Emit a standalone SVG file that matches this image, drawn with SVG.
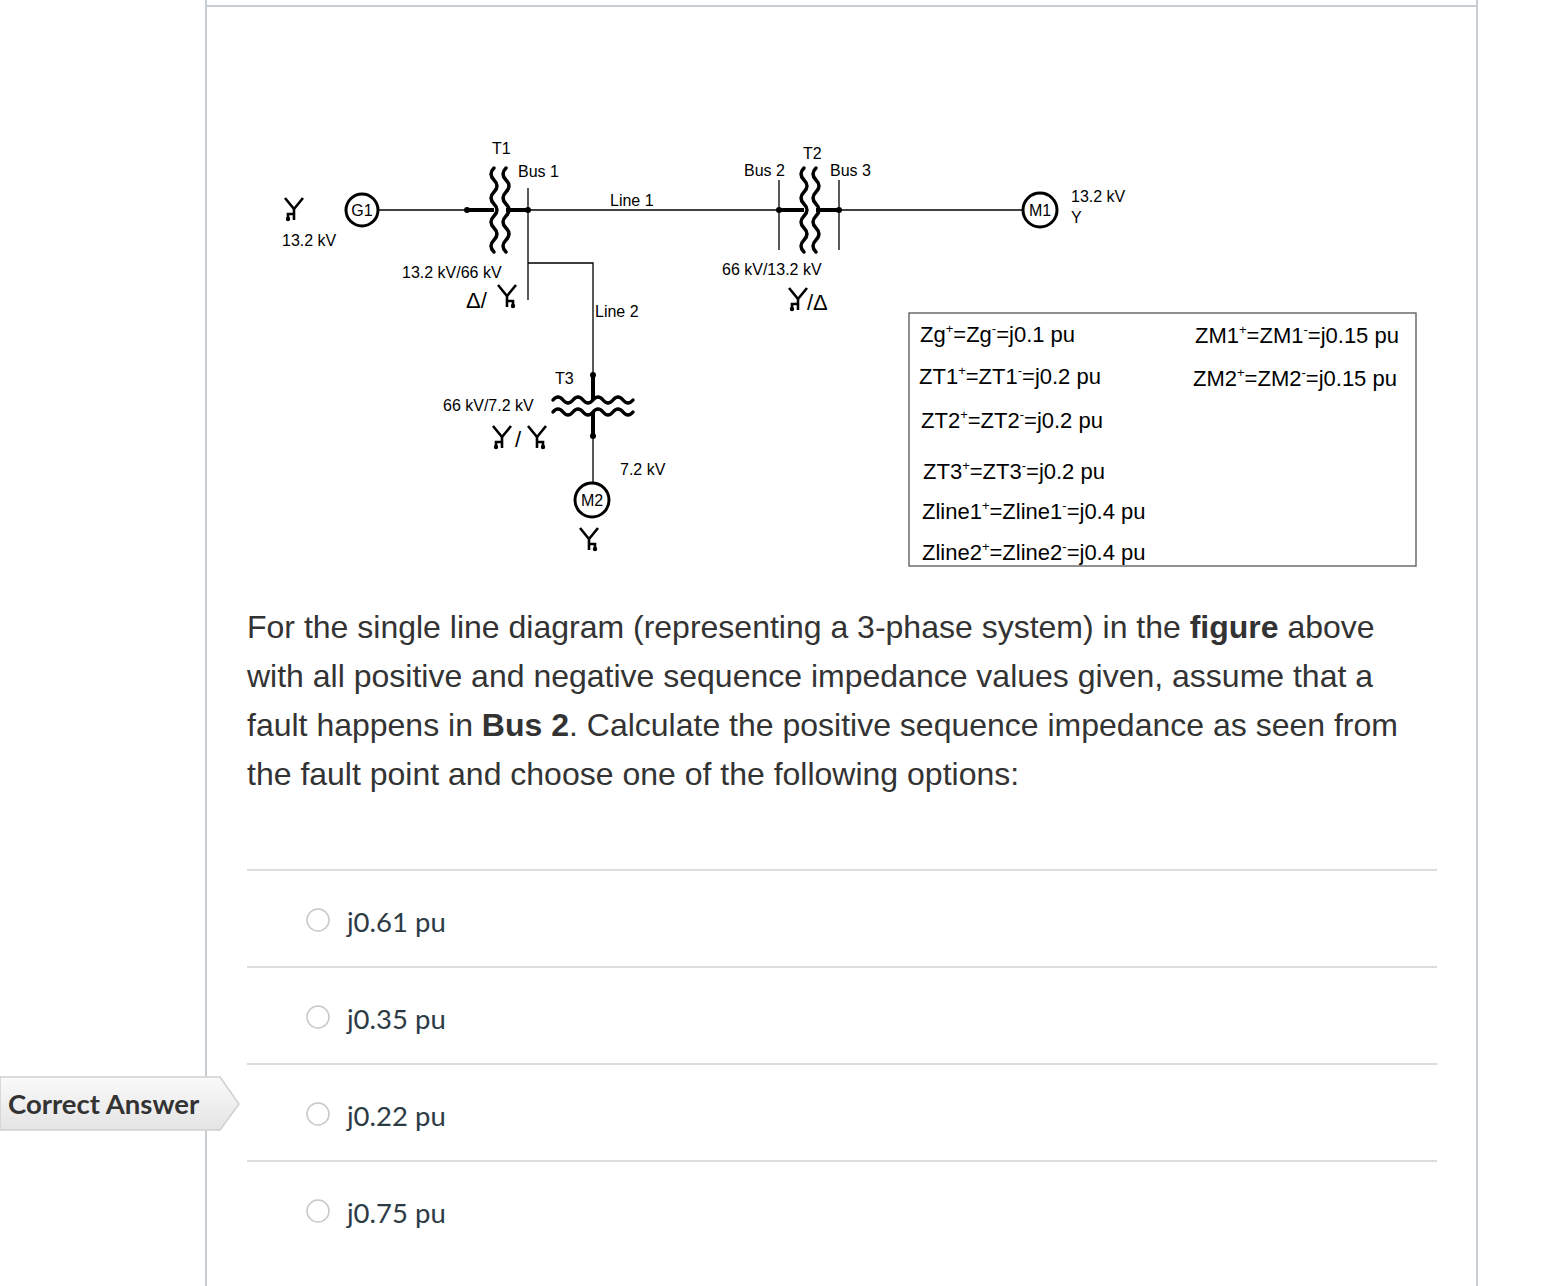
<svg xmlns="http://www.w3.org/2000/svg" width="1556" height="1286" viewBox="0 0 1556 1286">
<defs>
<linearGradient id="tab" x1="0" y1="0" x2="0" y2="1"><stop offset="0" stop-color="#fafafa"/><stop offset="1" stop-color="#e4e4e4"/></linearGradient>
<path id="vcoil" d="M0,0 q-6,6 0,12 q6,6 0,12 q-6,6 0,12 q6,6 0,12 q-6,6 0,12 q6,6 0,12 q-6,6 0,12" fill="none" stroke="#000" stroke-width="3.5" stroke-linecap="round"/>
<path id="hcoil" d="M0,0 q5,-6 10,0 q5,6 10,0 q5,-6 10,0 q5,6 10,0 q5,-6 10,0 q5,6 10,0 q5,-6 10,0 q5,6 10,0" fill="none" stroke="#000" stroke-width="3.5" stroke-linecap="round"/>
<g id="wyeg"><path d="M-9,-11 L0,0 L9,-11 M0,0 V11 M0,5 H-6 V10" fill="none" stroke="#000" stroke-width="2.6"/><circle cx="-6" cy="10" r="2.2"/></g>
</defs>
<style>
.d{font-family:"Liberation Sans",Arial,sans-serif;font-size:16px;fill:#000}
.b{font-family:"Liberation Sans",Arial,sans-serif;font-size:22px;fill:#000}
.s{font-size:13px}
.q{font-family:"Liberation Sans",Arial,sans-serif;font-size:32px;fill:#333}
.o{font-family:Lato,"Liberation Sans",sans-serif;font-size:27.5px;fill:#2d3b45}
.w{stroke:#000;stroke-width:1.3;fill:none}
.t{stroke:#000;stroke-width:4;fill:none}
.sep{stroke:#ddd;stroke-width:2}
</style>
<rect width="1556" height="1286" fill="#fff"/>
<g id="frame" stroke="#c7cdd1" stroke-width="2"><line x1="206" y1="0" x2="206" y2="1286"/><line x1="1477" y1="0" x2="1477" y2="1286"/><line x1="206" y1="6" x2="1477" y2="6"/></g>

<g id="connectors">
<line class="w" x1="378" y1="210" x2="467" y2="210"/>
<line class="w" x1="528" y1="210" x2="779" y2="210"/>
<line class="w" x1="528" y1="188" x2="528" y2="300"/>
<polyline class="w" points="528,263 593,263 593,375"/>
<line class="w" x1="593" y1="436" x2="593" y2="483"/>
<line class="w" x1="779" y1="180" x2="779" y2="250"/>
<line class="w" x1="839" y1="180" x2="839" y2="250"/>
<line class="w" x1="839" y1="210" x2="1023" y2="210"/>
</g>

<g id="G1"><circle cx="362" cy="210" r="16" fill="#fff" stroke="#000" stroke-width="3"/><text class="d" x="362" y="216" text-anchor="middle">G1</text>
<use href="#wyeg" x="294" y="209"/><text class="d" x="282" y="246">13.2 kV</text></g>

<g id="T1"><line class="t" x1="467" y1="210" x2="494" y2="210"/><line class="t" x1="506" y1="210" x2="528" y2="210"/>
<circle cx="467" cy="210" r="3"/><circle cx="528" cy="210" r="3"/>
<use href="#vcoil" x="494" y="168"/><use href="#vcoil" x="506" y="168"/>
<text class="d" x="492" y="154">T1</text><text class="d" x="518" y="177">Bus 1</text>
<text class="d" x="402" y="278">13.2 kV/66 kV</text>
<text class="b" x="466" y="308" font-size="25">Δ/</text><use href="#wyeg" transform="translate(507,296) scale(-1,1)"/></g>

<text class="d" x="610" y="206">Line 1</text>
<text class="d" x="595" y="317">Line 2</text>

<g id="T3"><line class="t" x1="593" y1="375" x2="593" y2="400"/><line class="t" x1="593" y1="412" x2="593" y2="436"/>
<circle cx="593" cy="375" r="3"/><circle cx="593" cy="436" r="3"/>
<use href="#hcoil" x="553" y="400"/><use href="#hcoil" x="553" y="412"/>
<text class="d" x="555" y="384">T3</text><text class="d" x="443" y="411">66 kV/7.2 kV</text>
<use href="#wyeg" x="502" y="437"/><text class="b" x="515" y="447">/</text><use href="#wyeg" transform="translate(537,437) scale(-1,1)"/>
<text class="d" x="620" y="475">7.2 kV</text></g>

<g id="M2"><circle cx="592" cy="500" r="17" fill="#fff" stroke="#000" stroke-width="3"/><text class="d" x="592" y="506" text-anchor="middle">M2</text><use href="#wyeg" transform="translate(589,539) scale(-1,1)"/></g>

<g id="T2"><line class="t" x1="779" y1="210" x2="804" y2="210"/><line class="t" x1="816" y1="210" x2="839" y2="210"/>
<circle cx="779" cy="210" r="3"/><circle cx="839" cy="210" r="3"/>
<use href="#vcoil" x="804" y="168"/><use href="#vcoil" x="816" y="168"/>
<text class="d" x="803" y="159">T2</text><text class="d" x="744" y="176">Bus 2</text><text class="d" x="830" y="176">Bus 3</text>
<text class="d" x="722" y="275">66 kV/13.2 kV</text>
<use href="#wyeg" x="798" y="299"/><text class="b" x="807" y="310" font-size="25">/Δ</text></g>

<g id="M1"><circle cx="1040" cy="210" r="17" fill="#fff" stroke="#000" stroke-width="3"/><text class="d" x="1040" y="216" text-anchor="middle">M1</text>
<text class="d" x="1071" y="202">13.2 kV</text><text class="d" x="1071" y="223">Y</text></g>

<g id="table"><rect x="909" y="313" width="507" height="253" fill="none" stroke="#555" stroke-width="1.3"/>
<g class="b">
<text x="920" y="342">Zg<tspan class="s" dy="-9">+</tspan><tspan dy="9">=Zg</tspan><tspan class="s" dy="-9">-</tspan><tspan dy="9">=j0.1 pu</tspan></text>
<text x="919" y="384">ZT1<tspan class="s" dy="-9">+</tspan><tspan dy="9">=ZT1</tspan><tspan class="s" dy="-9">-</tspan><tspan dy="9">=j0.2 pu</tspan></text>
<text x="921" y="428">ZT2<tspan class="s" dy="-9">+</tspan><tspan dy="9">=ZT2</tspan><tspan class="s" dy="-9">-</tspan><tspan dy="9">=j0.2 pu</tspan></text>
<text x="923" y="479">ZT3<tspan class="s" dy="-9">+</tspan><tspan dy="9">=ZT3</tspan><tspan class="s" dy="-9">-</tspan><tspan dy="9">=j0.2 pu</tspan></text>
<text x="922" y="519">Zline1<tspan class="s" dy="-9">+</tspan><tspan dy="9">=Zline1</tspan><tspan class="s" dy="-9">-</tspan><tspan dy="9">=j0.4 pu</tspan></text>
<text x="922" y="560">Zline2<tspan class="s" dy="-9">+</tspan><tspan dy="9">=Zline2</tspan><tspan class="s" dy="-9">-</tspan><tspan dy="9">=j0.4 pu</tspan></text>
<text x="1195" y="343">ZM1<tspan class="s" dy="-9">+</tspan><tspan dy="9">=ZM1</tspan><tspan class="s" dy="-9">-</tspan><tspan dy="9">=j0.15 pu</tspan></text>
<text x="1193" y="386">ZM2<tspan class="s" dy="-9">+</tspan><tspan dy="9">=ZM2</tspan><tspan class="s" dy="-9">-</tspan><tspan dy="9">=j0.15 pu</tspan></text>
</g></g>

<g id="question" class="q">
<text x="247" y="638">For the single line diagram (representing a 3-phase system) in the <tspan font-weight="bold">figure</tspan> above</text>
<text x="247" y="687">with all positive and negative sequence impedance values given, assume that a</text>
<text x="247" y="736">fault happens in <tspan font-weight="bold">Bus 2</tspan>. Calculate the positive sequence impedance as seen from</text>
<text x="247" y="785">the fault point and choose one of the following options:</text>
</g>

<g id="options">
<line class="sep" x1="247" y1="870" x2="1437" y2="870"/><line class="sep" x1="247" y1="967" x2="1437" y2="967"/>
<line class="sep" x1="247" y1="1064" x2="1437" y2="1064"/><line class="sep" x1="247" y1="1161" x2="1437" y2="1161"/>
<g fill="#fff" stroke="#c8c8c8" stroke-width="1.5"><circle cx="318" cy="920" r="11"/><circle cx="318" cy="1017" r="11"/><circle cx="318" cy="1114" r="11"/><circle cx="318" cy="1211" r="11"/></g>
<text class="o" x="347" y="932">j0.61 pu</text><text class="o" x="347" y="1029">j0.35 pu</text>
<text class="o" x="347" y="1126">j0.22 pu</text><text class="o" x="347" y="1223">j0.75 pu</text>
</g>

<g id="correct"><polygon points="0,1077 220,1077 239,1104 220,1130 0,1130" fill="url(#tab)" stroke="#cfcfcf" stroke-width="1.5"/>
<text x="8" y="1114" font-family="Lato,'Liberation Sans',sans-serif" font-size="27.5" font-weight="bold" fill="#333">Correct Answer</text></g>
</svg>
